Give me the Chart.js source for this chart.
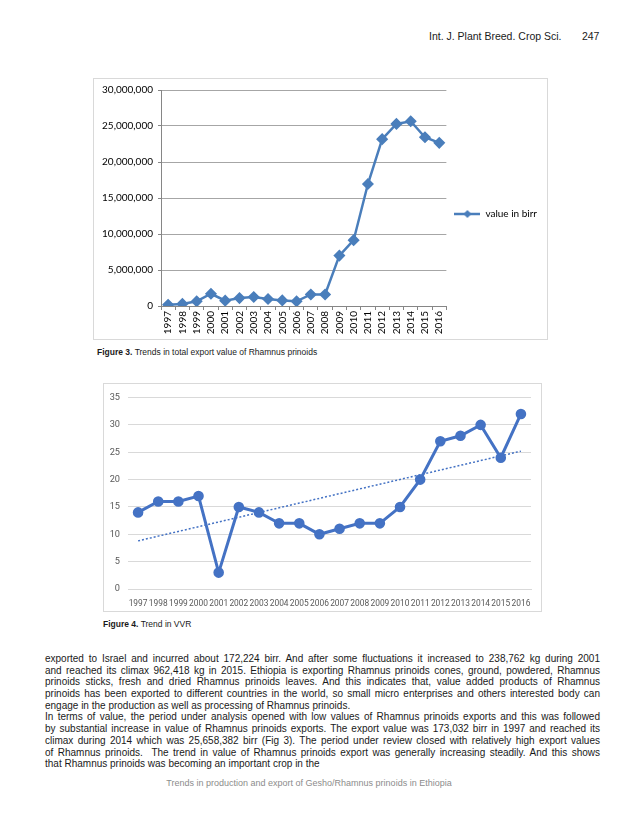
<!DOCTYPE html>
<html>
<head>
<meta charset="utf-8">
<script src="https://cdn.jsdelivr.net/npm/chart.js@4.4.1/dist/chart.umd.min.js"></script>
<style>
body { margin: 0; width: 638px; height: 826px; background: #fff; position: relative; overflow: hidden;
       font-family: "Liberation Sans", Arial, sans-serif; color: #1a1a1a; }
.abs { position: absolute; }
#hdr { left: 429px; top: 30px; font-size: 10.5px; white-space: pre; }
#box1 { left: 93px; top: 78px; width: 453px; height: 260px; border: 1px solid #d9d9d9; }
#box2 { left: 103px; top: 383px; width: 437px; height: 227px; border: 1px solid #d9d9d9; }
.cap { font-size: 8.5px; white-space: nowrap; }
#cap1 { left: 97px; top: 347px; }
#cap2 { left: 103px; top: 619px; }
#body { left: 45px; top: 653px; width: 555px; font-size: 10px; line-height: 11.7px; }
#body div { text-align: justify; text-align-last: justify; white-space: nowrap; height: 11.7px; }
#body div.end { text-align-last: left; }
#foot { left: 0; width: 618px; top: 778px; text-align: center; font-size: 9px; color: #8c8c8c; }
</style>
</head>
<body>
<div id="hdr" class="abs">Int. J. Plant Breed. Crop Sci.       247</div>

<div id="box1" class="abs"><canvas id="chart1" width="453" height="260"></canvas></div>
<div id="cap1" class="abs cap"><b>Figure 3.</b> Trends in total export value of Rhamnus prinoids</div>

<div id="box2" class="abs"><canvas id="chart2" width="437" height="227"></canvas></div>
<div id="cap2" class="abs cap"><b>Figure 4.</b> Trend in VVR</div>

<div id="body" class="abs">
  <div>exported to Israel and incurred about 172,224 birr. And after some fluctuations it increased to 238,762 kg during 2001</div>
  <div>and reached its climax 962,418 kg in 2015. Ethiopia is exporting Rhamnus prinoids cones, ground, powdered, Rhamnus</div>
  <div>prinoids sticks, fresh and dried Rhamnus prinoids leaves. And this indicates that, value added products of Rhamnus</div>
  <div>prinoids has been exported to different countries in the world, so small micro enterprises and others interested body can</div>
  <div class="end">engage in the production as well as processing of Rhamnus prinoids.</div>
  <div>In terms of value, the period under analysis opened with low values of Rhamnus prinoids exports and this was followed</div>
  <div>by substantial increase in value of Rhamnus prinoids exports. The export value was 173,032 birr in 1997 and reached its</div>
  <div>climax during 2014 which was 25,658,382 birr (Fig 3). The period under review closed with relatively high export values</div>
  <div>of Rhamnus prinoids.&nbsp; The trend in value of Rhamnus prinoids export was generally increasing steadily. And this shows</div>
  <div class="end">that Rhamnus prinoids was becoming an important crop in the</div>
</div>
<div id="foot" class="abs">Trends in production and export of Gesho/Rhamnus prinoids in Ethiopia</div>

<script>
// years shared by both figures
const years = ['1997', '1998', '1999', '2000', '2001', '2002', '2003', '2004', '2005', '2006',
               '2007', '2008', '2009', '2010', '2011', '2012', '2013', '2014', '2015', '2016'];

// Figure 3: total export value (birr)
const valueInBirr = [173032, 290000, 650000, 1700000, 740000, 1100000, 1250000, 970000, 780000, 650000,
                     1600000, 1600000, 7000000, 9140000, 16940000, 23170000, 25290000, 25658382, 23440000, 22660000];
const valueTicks = [0, 5000000, 10000000, 15000000, 20000000, 25000000, 30000000];

// Figure 4: VVR
const vvr = [14, 16, 16, 17, 3, 15, 14, 12, 12, 10, 11, 12, 12, 15, 20, 27, 28, 30, 24, 32];
const vvrTicks = [0, 5, 10, 15, 20, 25, 30, 35];

const blue1 = '#4a7ebb';
const blue2 = '#4472c4';
const tickFont = { family: 'Lato', size: 10 };
const tickFont2 = { family: 'Roboto', size: 8.4 };

// linear trend line for figure 4 (least squares, like the Excel trendline)
function linearTrend(ys) {
    const n = ys.length;
    let sx = 0, sy = 0, sxy = 0, sxx = 0;
    ys.forEach((y, i) => { sx += i; sy += y; sxy += i * y; sxx += i * i; });
    const slope = (n * sxy - sx * sy) / (n * sxx - sx * sx);
    const icpt = (sy - slope * sx) / n;
    return ys.map((_, i) => icpt + slope * i);
}

// legend marker: line with diamond, like Excel's
const legendImg = document.createElement('canvas');
legendImg.width = 26;
legendImg.height = 10;
(function () {
    const c = legendImg.getContext('2d');
    c.strokeStyle = blue1;
    c.lineWidth = 2.5;
    c.beginPath(); c.moveTo(0, 5); c.lineTo(26, 5); c.stroke();
    c.fillStyle = blue1;
    c.beginPath(); c.moveTo(13, 1); c.lineTo(17, 5); c.lineTo(13, 9); c.lineTo(9, 5); c.closePath(); c.fill();
})();

new Chart(document.getElementById('chart1'), {
    type: 'line',
    data: {
        labels: years,
        datasets: [{
            label: 'value in birr',
            data: valueInBirr,
            borderColor: blue1,
            backgroundColor: blue1,
            borderWidth: 2.5,
            pointStyle: 'rectRot',
            pointRadius: 4.3,
            tension: 0
        }]
    },
    options: {
        responsive: false,
        animation: false,
        layout: { padding: { top: 10, right: 0, left: 0, bottom: 0 } },
        plugins: {
            tooltip: { enabled: false },
            legend: {
                position: 'right',
                labels: {
                    usePointStyle: true,
                    pointStyle: legendImg,
                    pointStyleWidth: 26,
                    boxHeight: 10,
                    padding: 8,
                    color: '#000',
                    font: tickFont
                }
            }
        },
        scales: {
            x: {
                offset: true,
                afterFit: s => { s.height = 33; },
                grid: { offset: true, drawOnChartArea: false, drawTicks: true, tickLength: 4, color: '#868686' },
                border: { color: '#868686' },
                ticks: { autoSkip: false, minRotation: 90, maxRotation: 90, padding: 1, color: '#000', font: tickFont }
            },
            y: {
                min: 0,
                max: 30000000,
                afterFit: s => { s.width = 67; },
                afterBuildTicks: s => { s.ticks = valueTicks.map(v => ({ value: v })); },
                grid: { color: '#a6a6a6', tickLength: 3, tickColor: '#868686' },
                border: { color: '#868686' },
                ticks: {
                    padding: 5,
                    color: '#000',
                    font: tickFont,
                    callback: v => v.toLocaleString('en-US')
                }
            }
        }
    }
});

new Chart(document.getElementById('chart2'), {
    type: 'line',
    data: {
        labels: years,
        datasets: [{
            label: 'VVR',
            data: vvr,
            borderColor: blue2,
            backgroundColor: blue2,
            borderWidth: 3,
            pointStyle: 'circle',
            pointRadius: 3.8,
            tension: 0
        }, {
            label: 'Linear (VVR)',
            data: linearTrend(vvr),
            borderColor: blue2,
            borderWidth: 1.5,
            borderDash: [2, 2],
            pointRadius: 0,
            tension: 0
        }]
    },
    options: {
        responsive: false,
        animation: false,
        layout: { padding: { top: 11, right: 10, left: 0, bottom: 0 } },
        plugins: { legend: { display: false }, tooltip: { enabled: false } },
        scales: {
            x: {
                offset: true,
                afterFit: s => { s.height = 22; },
                grid: { display: false },
                border: { color: '#d9d9d9' },
                ticks: { autoSkip: false, minRotation: 0, maxRotation: 0, padding: 2, color: '#595959', font: tickFont2 }
            },
            y: {
                min: 0,
                max: 35,
                afterFit: s => { s.width = 24; },
                afterBuildTicks: s => { s.ticks = vvrTicks.map(v => ({ value: v })); },
                grid: { color: '#d9d9d9', drawTicks: false },
                border: { display: false },
                ticks: { padding: 8, color: '#595959', font: { family: 'Roboto', size: 9.2 } }
            }
        }
    }
});
</script>
</body>
</html>
